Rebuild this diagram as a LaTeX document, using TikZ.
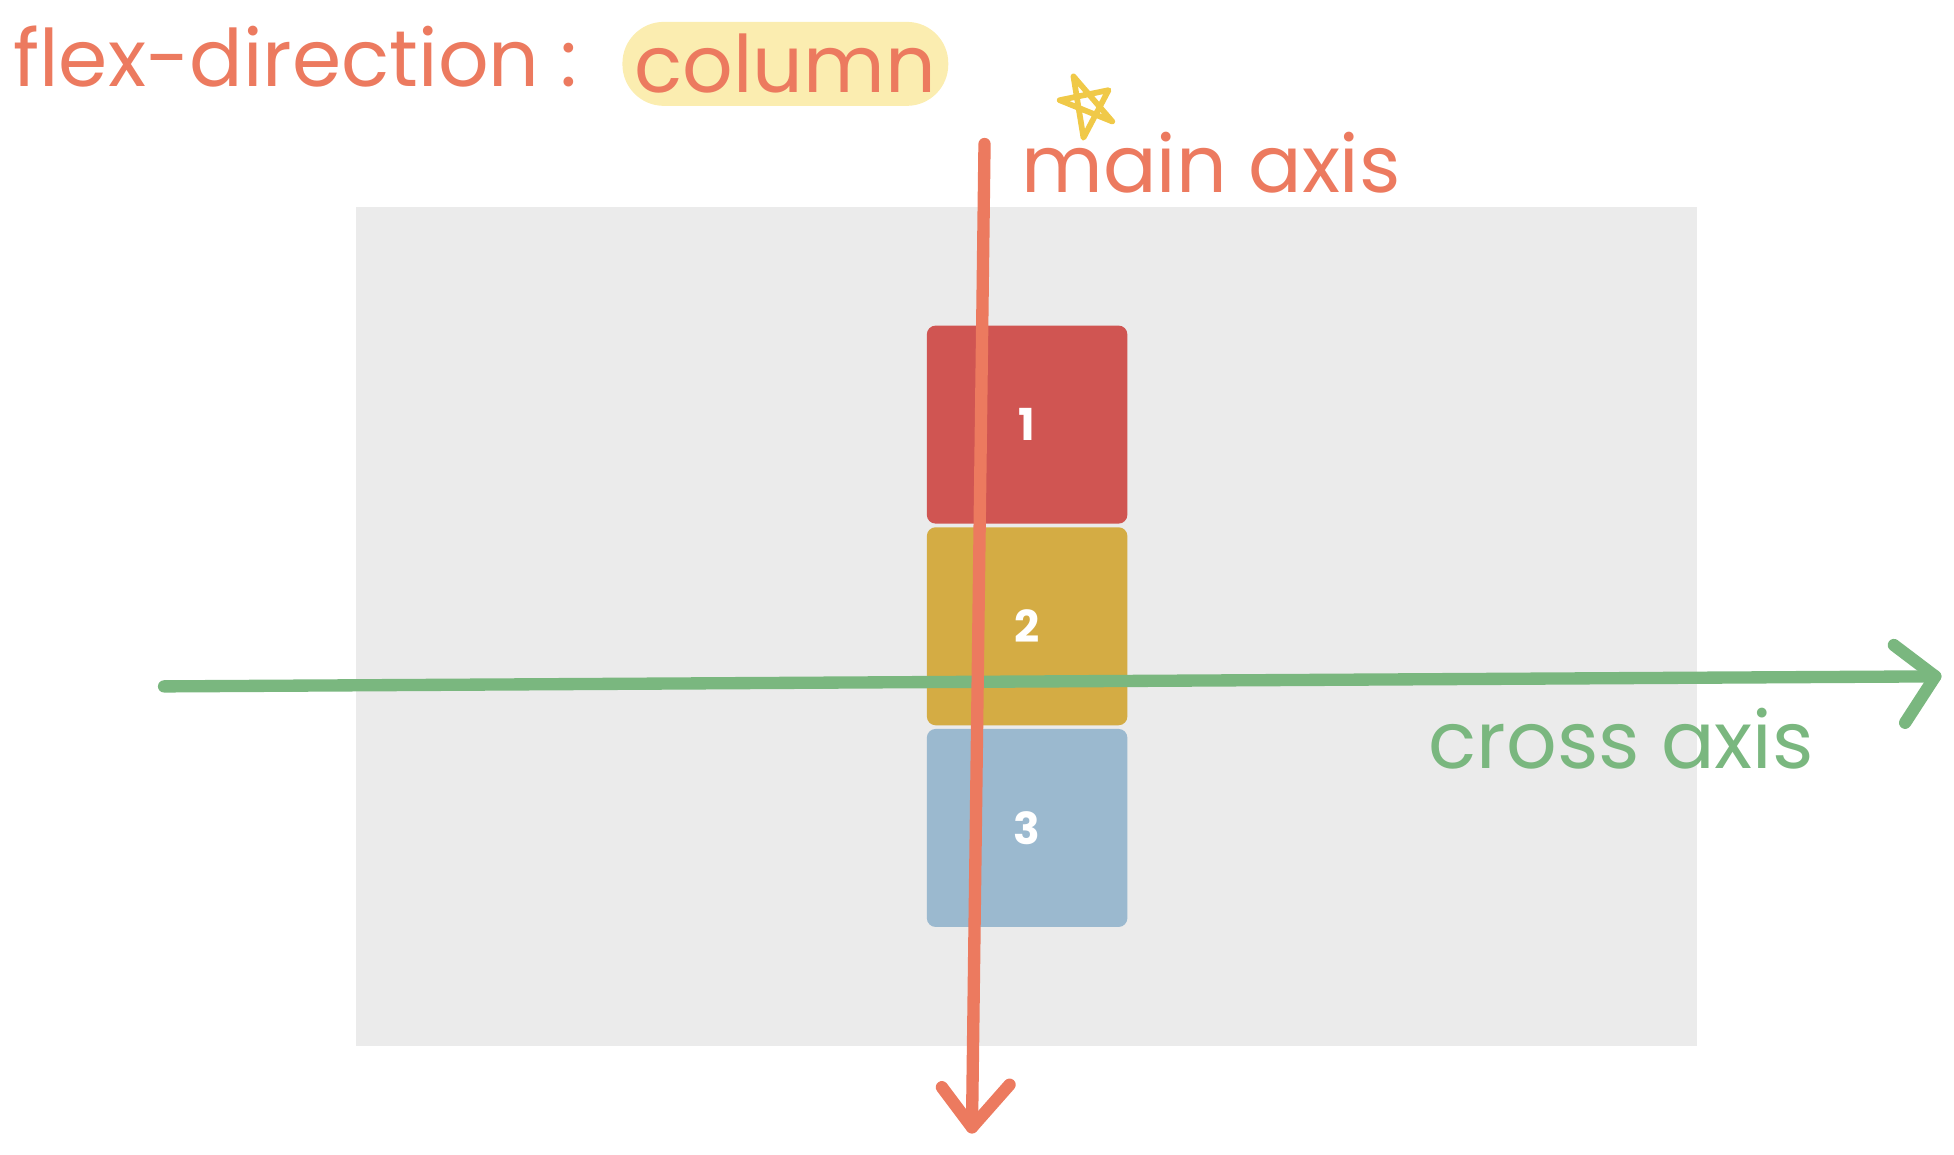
\documentclass[tikz,border=0pt]{standalone}
\usepackage{fontspec}
\setmainfont{Poppins}
\definecolor{ora}{HTML}{EC7A5F}
\definecolor{grn}{HTML}{7AB77F}
\definecolor{pill}{HTML}{FBEDB0}
\definecolor{star}{HTML}{F0C948}
\definecolor{bgray}{HTML}{EBEBEB}
\definecolor{bred}{HTML}{D05552}
\definecolor{byel}{HTML}{D4AC44}
\definecolor{bblu}{HTML}{9BB9CF}
\tikzset{
 itembox/.style={minimum width=1.6cm,minimum height=1.58cm,rounded corners=2pt,inner sep=0pt,text=white,font=\bfseries\fontsize{10}{10}\selectfont},
 axis/.style={line width=2.8pt,line cap=round,line join=round},
 lbl/.style={font=\fontsize{18}{18}\selectfont,inner sep=0pt}
}
\begin{document}
\begin{tikzpicture}[x=0.01cm,y=-0.01cm]
\useasboundingbox (0,0) rectangle (1560,922);
\fill[bgray] (284,165) rectangle (1355,835);
\node[itembox,fill=bred] (b1) at (820,339) {1};
\node[itembox,fill=byel] (b2) at (820,500) {2};
\node[itembox,fill=bblu] (b3) at (820,661) {3};
\coordinate (cs) at (131,548);
\coordinate (ce) at (1545,540);
\draw[axis,grn] (cs) -- (ce);
\draw[axis,grn] (1512,515) -- (ce) -- (1521,577);
\coordinate (ms) at (786,115);
\coordinate (me) at (776,900);
\draw[axis,ora] (ms) -- (me);
\draw[axis,ora] (752,868) -- (me) -- (806,866);
\node[lbl,text=ora,anchor=west] (title) at (10,45) {flex-direction :};
\node[fill=pill,rounded corners=0.33cm,minimum width=2.6cm,minimum height=0.67cm,inner sep=0pt] (pill) at (627,51) {};
\node[lbl,text=ora] (col) at (pill) {column};
\node[lbl,text=ora,anchor=west] (main) at (815,130) {main axis};
\node[lbl,text=grn,anchor=west] (cross) at (1140,590) {cross axis};
\draw[star,line width=1.3pt,line join=round] (857,61) -- (865,110) -- (885,72) -- (846,80) -- (888,97) -- cycle;
\end{tikzpicture}
\end{document}
